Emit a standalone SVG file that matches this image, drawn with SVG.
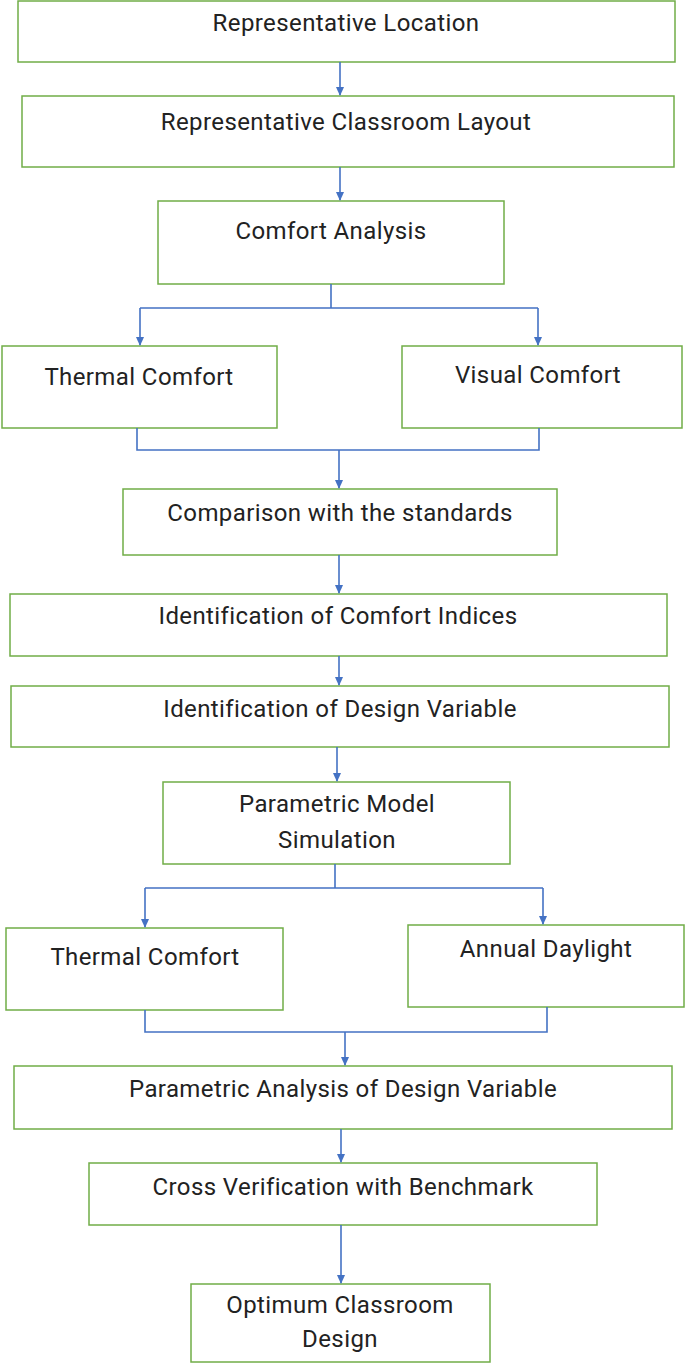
<svg xmlns="http://www.w3.org/2000/svg" width="685" height="1365" viewBox="0 0 685 1365">
<style>
.b{fill:#fff;stroke:#70ad47;stroke-width:1.5}
.t{font-family:Roboto,"Liberation Sans",sans-serif;font-size:24px;letter-spacing:0.4px;fill:#222;text-anchor:middle}
.c{fill:none;stroke:#4472c4;stroke-width:1.6}
</style>
<defs><marker id="a" markerWidth="10" markerHeight="10" refX="8" refY="5" orient="auto" markerUnits="userSpaceOnUse"><path d="M0,1 L9,5 L0,9 z" fill="#4472c4"/></marker></defs>
<rect width="685" height="1365" fill="#fff"/>
<g id="n1"><rect class="b" x="18" y="1" width="657" height="61"/><text class="t" x="346" y="31">Representative Location</text></g>
<g id="n2"><rect class="b" x="22" y="96" width="652" height="71"/><text class="t" x="346" y="130">Representative Classroom Layout</text></g>
<g id="n3"><rect class="b" x="158" y="201" width="346" height="83"/><text class="t" x="331" y="239">Comfort Analysis</text></g>
<g id="n4"><rect class="b" x="2" y="346" width="275" height="82"/><text class="t" x="139" y="385">Thermal Comfort</text></g>
<g id="n5"><rect class="b" x="402" y="346" width="280" height="82"/><text class="t" x="538" y="383">Visual Comfort</text></g>
<g id="n6"><rect class="b" x="123" y="489" width="434" height="66"/><text class="t" x="340" y="521">Comparison with the standards</text></g>
<g id="n7"><rect class="b" x="10" y="594" width="657" height="62"/><text class="t" x="338" y="624">Identification of Comfort Indices</text></g>
<g id="n8"><rect class="b" x="11" y="686" width="658" height="61"/><text class="t" x="340" y="717">Identification of Design Variable</text></g>
<g id="n9"><rect class="b" x="163" y="782" width="347" height="82"/><text class="t" x="337" y="812">Parametric Model</text><text class="t" x="337" y="848">Simulation</text></g>
<g id="n10"><rect class="b" x="6" y="928" width="277" height="82"/><text class="t" x="145" y="965">Thermal Comfort</text></g>
<g id="n11"><rect class="b" x="408" y="925" width="276" height="82"/><text class="t" x="546" y="957">Annual Daylight</text></g>
<g id="n12"><rect class="b" x="14" y="1066" width="658" height="63"/><text class="t" x="343" y="1097">Parametric Analysis of Design Variable</text></g>
<g id="n13"><rect class="b" x="89" y="1163" width="508" height="62"/><text class="t" x="343" y="1195">Cross Verification with Benchmark</text></g>
<g id="n14"><rect class="b" x="191" y="1284" width="299" height="78"/><text class="t" x="340" y="1313">Optimum Classroom</text><text class="t" x="340" y="1347">Design</text></g>
<g id="connectors">
<path class="c" d="M340,62 V95" marker-end="url(#a)"/>
<path class="c" d="M340,167 V200" marker-end="url(#a)"/>
<path class="c" d="M331,284 V308 M140,308 H538"/>
<path class="c" d="M140,308 V345" marker-end="url(#a)"/>
<path class="c" d="M538,308 V345" marker-end="url(#a)"/>
<path class="c" d="M137,428 V450 H539 V428"/>
<path class="c" d="M339,450 V488" marker-end="url(#a)"/>
<path class="c" d="M339,555 V593" marker-end="url(#a)"/>
<path class="c" d="M339,656 V685" marker-end="url(#a)"/>
<path class="c" d="M337,747 V781" marker-end="url(#a)"/>
<path class="c" d="M335,864 V888 M145,888 H543"/>
<path class="c" d="M145,888 V927" marker-end="url(#a)"/>
<path class="c" d="M543,888 V924" marker-end="url(#a)"/>
<path class="c" d="M145,1010 V1032 H547 V1007"/>
<path class="c" d="M345,1032 V1065" marker-end="url(#a)"/>
<path class="c" d="M341,1129 V1162" marker-end="url(#a)"/>
<path class="c" d="M341,1225 V1283" marker-end="url(#a)"/>
</g>
</svg>
